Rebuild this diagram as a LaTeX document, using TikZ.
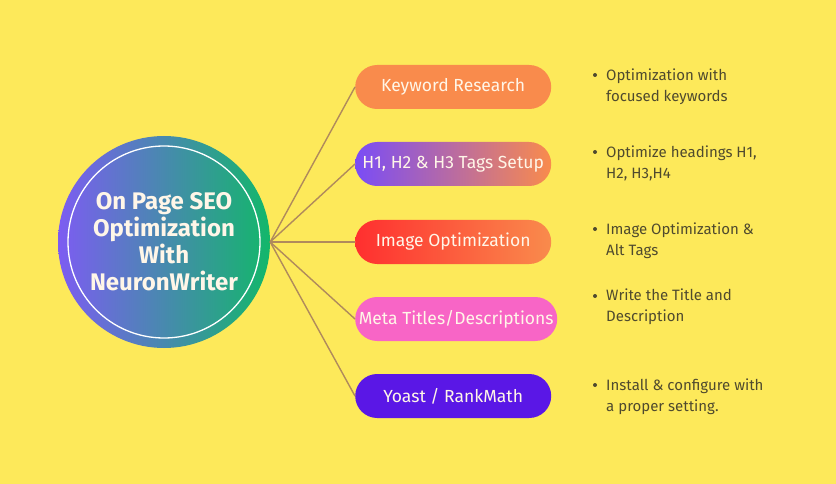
\documentclass[tikz,border=0pt]{standalone}
\usepackage{fontspec}
\setmainfont{Fira Sans}
\definecolor{bgyellow}{HTML}{FDE95A}
\definecolor{linebrown}{HTML}{B08A5C}
\definecolor{circpurple}{HTML}{7D5CF2}
\definecolor{circgreen}{HTML}{12B76A}
\definecolor{pillorange}{HTML}{F98B4C}
\definecolor{pillpurple}{HTML}{7A4CF6}
\definecolor{pillred}{HTML}{FF2F2F}
\definecolor{pillpink}{HTML}{F865C6}
\definecolor{pillviolet}{HTML}{5A17E6}
\definecolor{notetext}{HTML}{4F4A2E}
\definecolor{pilltext}{HTML}{FFF6E8}
\tikzset{
  hub/.style={circle, minimum size=212pt, inner sep=0pt, left color=circpurple, right color=circgreen, text=pilltext, align=center, font=\fontsize{24}{27}\selectfont\bfseries},
  pill/.style={rounded corners=22pt, minimum width=196pt, minimum height=44pt, inner sep=0pt, anchor=west, text=pilltext, font=\fontsize{17.5}{20}\selectfont},
  note/.style={anchor=west, align=left, inner sep=0pt, text=notetext, font=\fontsize{15}{21}\selectfont},
  dot/.style={circle, fill=notetext, inner sep=0pt, minimum size=4pt},
  spoke/.style={draw=linebrown, line width=1.4pt},
}

\begin{document}
\begin{tikzpicture}[x=1pt,y=-1pt]
\fill[bgyellow] (0,0) rectangle (836,484);
\useasboundingbox (0,0) rectangle (836,484);

% centre circle
\node[hub] (seo) at (164,242) {On Page SEO\\Optimization\\With\\NeuronWriter};
\draw[white, line width=1.3pt] (seo.center) circle (96pt);

% the five topics
\node[pill, fill=pillorange] (kw) at (355,87) {Keyword Research};
\node[pill, left color=pillpurple, right color=pillorange] (tags) at (355,164) {H1, H2 \& H3 Tags Setup};
\node[pill, left color=pillred, right color=pillorange] (img) at (355,242) {Image Optimization};
\node[pill, fill=pillpink, minimum width=202pt] (meta) at (355,319) {Meta Titles/Descriptions};
\node[pill, fill=pillviolet] (yoast) at (355,396) {Yoast / RankMath};

\draw[spoke] (seo.east) -- (kw.west); \draw[spoke] (seo.east) -- (tags.west); \draw[spoke] (seo.east) -- (img.west);
\draw[spoke] (seo.east) -- (meta.west); \draw[spoke] (seo.east) -- (yoast.west);

% notes
\node[dot] (d1) at (595,75) {}; \node[note] (n1) at (606,86.5) {Optimization with\\focused keywords};
\node[dot] (d2) at (595,152) {}; \node[note] (n2) at (606,163) {Optimize headings H1,\\H2, H3,H4};
\node[dot] (d3) at (595,229) {}; \node[note] (n3) at (606,240.5) {Image Optimization \&\\Alt Tags};
\node[dot] (d4) at (595,296) {}; \node[note] (n4) at (606,307) {Write the Title and\\Description};
\node[dot] (d5) at (595,385) {}; \node[note] (n5) at (606,396.5) {Install \& configure with\\a proper setting.};
\end{tikzpicture}
\end{document}
